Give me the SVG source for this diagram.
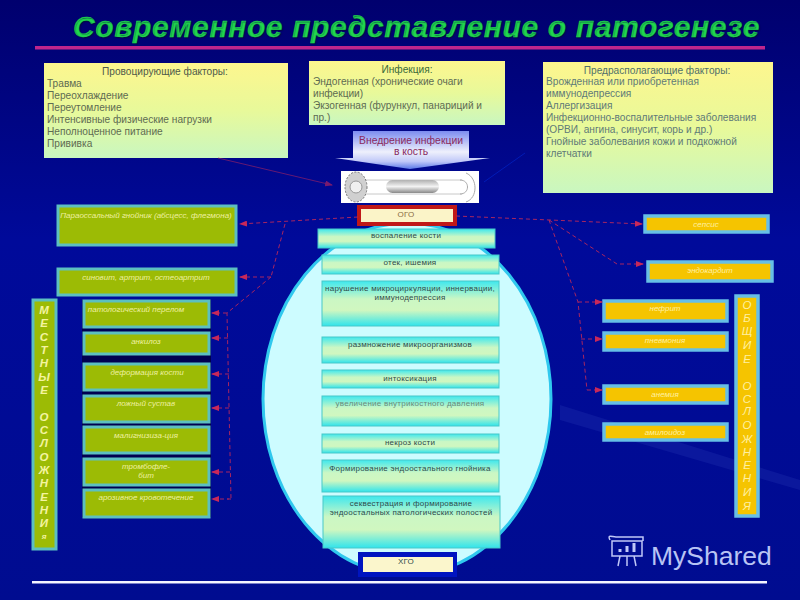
<svg xmlns="http://www.w3.org/2000/svg" width="800" height="600" viewBox="0 0 800 600">
<style>
text{font-family:"Liberation Sans",Arial,sans-serif}
.fac{font-size:10.15px;fill:#5e6b52}
.fach{font-size:10.15px;fill:#4f5a4a;text-anchor:middle}
.g{fill:#9cbb05;stroke:#5cc0c0;stroke-width:3}
.o{fill:#f5c400;stroke:#66bfe6;stroke-width:3.5}
.gt{font-size:8px;font-style:italic;fill:#eef0a0;text-anchor:middle}
.ot{font-size:8px;fill:#fff0a0;text-anchor:middle;font-style:italic}
.ct{font-size:8px;fill:#2f4a4a;text-anchor:middle;letter-spacing:.25px}
.c{fill:url(#cy);stroke:#48c8c8;stroke-width:1}
.vt{font-size:11.5px;font-style:italic;font-weight:bold;fill:#f4f4a0;text-anchor:middle}
.vo{font-size:11.5px;font-style:italic;fill:#fff0a0;text-anchor:middle}
.d{fill:none;stroke:#a82560;stroke-width:1;stroke-dasharray:4 3;marker-end:url(#a)}
.l{fill:none;stroke:#a82560;stroke-width:1;stroke-dasharray:4 3}
</style>
<defs>
<linearGradient id="bg" x1="0" y1="0" x2="0" y2="1"><stop offset="0" stop-color="#00006e"/><stop offset=".4" stop-color="#000a9a"/><stop offset="1" stop-color="#000c90"/></linearGradient>
<linearGradient id="y" x1="0" y1="0" x2="0" y2="1"><stop offset="0" stop-color="#fdf68e"/><stop offset=".5" stop-color="#e8f99a"/><stop offset="1" stop-color="#c9f7c0"/></linearGradient>
<linearGradient id="cy" x1="0" y1="0" x2="0" y2="1"><stop offset="0" stop-color="#3fe8ee"/><stop offset=".4" stop-color="#cbf7c4"/><stop offset=".65" stop-color="#d0f7c0"/><stop offset="1" stop-color="#30e4ec"/></linearGradient>
<linearGradient id="cb" x1="0" y1="0" x2="0" y2="1"><stop offset="0" stop-color="#7c8cf0"/><stop offset=".55" stop-color="#eef0fc"/><stop offset=".8" stop-color="#c0c8f8"/><stop offset="1" stop-color="#5a78e8"/></linearGradient>
<linearGradient id="tu" x1="0" y1="0" x2="0" y2="1"><stop offset="0" stop-color="#b0b0b0"/><stop offset=".5" stop-color="#f2f2f2"/><stop offset="1" stop-color="#888888"/></linearGradient>
<marker id="a" markerWidth="8" markerHeight="6" refX="7" refY="3" orient="auto"><path d="M0 0L8 3L0 6Z" fill="#c8285a"/></marker>
</defs>
<rect width="800" height="600" fill="url(#bg)"/>
<path d="M560 405L800 480V490L560 420Z" fill="#2030b0" opacity=".35"/>
<text id="title" x="416.5" y="37" font-size="30" font-weight="bold" font-style="italic" fill="#20d84e" stroke="#20d84e" stroke-width=".3" text-anchor="middle" letter-spacing=".63" style="text-shadow:1px 1px 1px #001040">Современное представление о патогенезе</text>
<rect x="35" y="46" width="730" height="3.5" fill="#c0258c"/>
<rect x="32" y="581" width="735" height="2.5" fill="#f4f4ff"/>

<g id="n-provoc"><rect x="44" y="63" width="244" height="95" fill="url(#y)"/>
<text class="fach" x="165" y="75">Провоцирующие  факторы:</text>
<text class="fac"><tspan x="47" y="87">Травма</tspan><tspan x="47" y="99">Переохлаждение</tspan><tspan x="47" y="111">Переутомление</tspan><tspan x="47" y="123">Интенсивные физические нагрузки</tspan><tspan x="47" y="135">Неполноценное питание</tspan><tspan x="47" y="147">Прививка</tspan></text></g>
<g id="n-inf"><rect x="309" y="61" width="196" height="64" fill="url(#y)"/>
<text class="fach" x="407" y="73" style="fill:#3a6a3a">Инфекция:</text>
<text class="fac"><tspan x="313" y="85">Эндогенная (хронические очаги</tspan><tspan x="313" y="97">инфекции)</tspan><tspan x="313" y="109">Экзогенная (фурункул, панариций и</tspan><tspan x="313" y="121">пр.)</tspan></text></g>
<g id="n-pred"><rect x="543" y="62" width="230" height="131" fill="url(#y)"/>
<text class="fach" x="657" y="74" style="fill:#50706a">Предрасполагающие факторы:</text>
<text class="fac" style="fill:#607a78"><tspan x="546" y="85">Врожденная или приобретенная</tspan><tspan x="546" y="97">иммунодепрессия</tspan><tspan x="546" y="109">Аллергизация</tspan><tspan x="546" y="121">Инфекционно-воспалительные заболевания</tspan><tspan x="546" y="133">(ОРВИ,  ангина, синусит, корь и др.)</tspan><tspan x="546" y="145">Гнойные заболевания кожи и подкожной</tspan><tspan x="546" y="157">клетчатки</tspan></text></g>

<g id="n-vned"><path d="M353 131H469V158L490 158L410 169L335 158H353Z" fill="url(#cb)"/>
<text font-size="10.4" fill="#8a2a60" text-anchor="middle"><tspan x="411" y="144">Внедрение инфекции</tspan><tspan x="411" y="155">в кость</tspan></text></g>

<g id="n-bone"><rect x="341" y="171" width="138" height="32" fill="#fff"/>
<path d="M360 180H462M360 194H462" stroke="#c8c8c8" fill="none"/>
<ellipse cx="356" cy="187" rx="11" ry="15" fill="#d0d0d0" stroke="#777" stroke-dasharray="2 1.5"/><circle cx="356" cy="187" r="6" fill="#f0f0f0" stroke="#999"/>
<rect x="386" y="180" width="53" height="13" rx="6.5" fill="url(#tu)"/>
<path d="M460 180C470 180 470 194 460 194M466 173C478 178 478 198 466 202" fill="none" stroke="#aaa"/></g>

<g id="n-ellipse"><ellipse cx="407" cy="399" rx="144" ry="176" fill="#cdfcff" stroke="#30c8ee" stroke-width="3"/></g>

<g id="n-ogo"><rect x="357" y="205" width="100" height="21" fill="#c01818"/><rect x="361" y="209" width="92" height="13" fill="#fbf4c8"/><text class="ct" x="406" y="217" style="fill:#8a6a40">ОГО</text></g>
<g id="n-xgo"><rect x="358" y="552" width="99" height="25" fill="#0014c0"/><rect x="363" y="557" width="90" height="15" fill="#fbf6cc"/><text class="ct" x="406" y="564">ХГО</text></g>

<g id="n-c1"><rect class="c" x="318" y="229" width="177" height="19"/><text class="ct" x="406" y="238">воспаление  кости</text></g>
<g id="n-c2"><rect class="c" x="322" y="255" width="177" height="19"/><text class="ct" x="410" y="265">отек,  ишемия</text></g>
<g id="n-c3"><rect class="c" x="322" y="281" width="177" height="45"/><text class="ct"><tspan x="410" y="291">нарушение  микроциркуляции,   иннервации,</tspan><tspan x="410" y="300">иммунодепрессия</tspan></text></g>
<g id="n-c4"><rect class="c" x="322" y="337" width="177" height="26"/><text class="ct" x="410" y="347">размножение  микроорганизмов</text></g>
<g id="n-c5"><rect class="c" x="322" y="370" width="177" height="18"/><text class="ct" x="410" y="381">интоксикация</text></g>
<g id="n-c6"><rect class="c" x="322" y="396" width="177" height="30"/><text class="ct" x="410" y="406" style="fill:#6a8a7a">увеличение внутрикостного  давления</text></g>
<g id="n-c7"><rect class="c" x="322" y="434" width="177" height="19"/><text class="ct" x="410" y="445">некроз  кости</text></g>
<g id="n-c8"><rect class="c" x="322" y="460" width="177" height="32"/><text class="ct" x="410" y="471">Формирование  эндоостального  гнойника</text></g>
<g id="n-c9"><rect class="c" x="323" y="496" width="177" height="52"/><text class="ct"><tspan x="411" y="506">секвестрация  и формирование</tspan><tspan x="411" y="515">эндоостальных  патологических  полостей</tspan></text></g>

<rect x="82" y="300" width="129" height="217" fill="#000050"/>
<g id="n-l1"><rect class="g" x="58" y="206" width="178" height="39"/><text class="gt" x="146" y="218">Параоссальный гнойник (абсцесс, флегмона)</text></g>
<g id="n-l2"><rect class="g" x="58" y="269" width="178" height="26"/><text class="gt" x="146" y="280">синовит,  артрит,  остеоартрит</text></g>
<g id="n-l3"><rect class="g" x="84" y="301" width="125" height="26"/><text class="gt" x="136" y="312">патологический  перелом</text></g>
<g id="n-l4"><rect class="g" x="84" y="333" width="125" height="21"/><text class="gt" x="146" y="344">анкилоз</text></g>
<g id="n-l5"><rect class="g" x="84" y="364" width="125" height="26"/><text class="gt" x="147" y="375">деформация  кости</text></g>
<g id="n-l6"><rect class="g" x="84" y="396" width="125" height="26"/><text class="gt" x="146" y="406">ложный  сустав</text></g>
<g id="n-l7"><rect class="g" x="84" y="427" width="125" height="26"/><text class="gt" x="146" y="438">малигнизиза-ция</text></g>
<g id="n-l8"><rect class="g" x="84" y="459" width="125" height="26"/><text class="gt"><tspan x="146" y="469">тромбофле-</tspan><tspan x="146" y="478">бит</tspan></text></g>
<g id="n-l9"><rect class="g" x="84" y="490" width="125" height="27"/><text class="gt" x="146" y="500">арозивное  кровотечение</text></g>

<g id="n-local"><rect class="g" x="33" y="300" width="23" height="249"/>
<text class="vt"><tspan x="44" y="314">М</tspan><tspan x="44" y="327">Е</tspan><tspan x="44" y="341">С</tspan><tspan x="44" y="354">Т</tspan><tspan x="44" y="367">Н</tspan><tspan x="44" y="381">Ы</tspan><tspan x="44" y="394">Е</tspan><tspan x="44" y="421">О</tspan><tspan x="44" y="434">С</tspan><tspan x="44" y="447">Л</tspan><tspan x="44" y="461">О</tspan><tspan x="44" y="474">Ж</tspan><tspan x="44" y="487">Н</tspan><tspan x="44" y="501">Е</tspan><tspan x="44" y="514">Н</tspan><tspan x="44" y="527">И</tspan><tspan x="44" y="539" font-size="8">я</tspan></text></g>

<g id="n-r1"><rect class="o" x="645" y="216" width="123" height="16"/><text class="ot" x="706" y="227">сепсис</text></g>
<g id="n-r2"><rect class="o" x="648" y="262" width="124" height="19"/><text class="ot" x="710" y="273">эндокардит</text></g>
<g id="n-r3"><rect class="o" x="604" y="301" width="123" height="20"/><text class="ot" x="665" y="311">нефрит</text></g>
<g id="n-r4"><rect class="o" x="604" y="333" width="123" height="17"/><text class="ot" x="665" y="343">пневмония</text></g>
<g id="n-r5"><rect class="o" x="604" y="386" width="123" height="17"/><text class="ot" x="665" y="397">анемия</text></g>
<g id="n-r6"><rect class="o" x="604" y="424" width="123" height="16"/><text class="ot" x="665" y="435">амилоидоз</text></g>
<g id="n-gen"><rect class="o" x="736" y="296" width="22" height="220"/>
<text class="vo"><tspan x="747" y="309">О</tspan><tspan x="747" y="322">Б</tspan><tspan x="747" y="335">Щ</tspan><tspan x="747" y="349">И</tspan><tspan x="747" y="363">Е</tspan><tspan x="747" y="390">О</tspan><tspan x="747" y="403">С</tspan><tspan x="747" y="415">Л</tspan><tspan x="747" y="429">О</tspan><tspan x="747" y="443">Ж</tspan><tspan x="747" y="456">Н</tspan><tspan x="747" y="469">Е</tspan><tspan x="747" y="482">Н</tspan><tspan x="747" y="496">И</tspan><tspan x="747" y="510">Я</tspan></text></g>

<g id="connectors">
<path class="d" d="M218 158L332 185" style="stroke-dasharray:none;opacity:.6"/>
<path d="M525 153L484 182" fill="none" stroke="#0030e0" stroke-width="1" style="opacity:.5"/>
<path class="d" d="M358 217L240 224"/>
<path class="l" d="M285 224L271 277"/>
<path class="d" d="M271 277H240"/>
<path class="l" d="M271 277L227 313L231 499H227"/>
<path class="d" d="M227 313H212"/>
<path class="d" d="M228 338H212"/>
<path class="d" d="M229 374H212"/>
<path class="d" d="M229 408H212"/>
<path class="d" d="M230 472H212"/>
<path class="d" d="M231 499H212"/>
<path class="d" d="M456 216L550 220L642 224"/>
<path class="d" d="M549 220L617 264H643"/>
<path class="l" d="M549 220L578 302L587 390"/>
<path class="d" d="M578 302H602"/>
<path class="d" d="M581 339H602"/>
<path class="d" d="M587 390H602"/>
</g>

<g id="watermark" fill="none" stroke="#c0c8f8" stroke-width="1.5"><path d="M612 541H642V556H612ZM610 540C607 534 612 537 616 537H643V541M620 556L618 566M627 556V566M634 556L636 566"/><path d="M620 552V549M627 552V546M634 552V543" stroke-width="3"/></g>
<text x="651" y="565" font-family="Open Sans,Noto Sans,sans-serif" font-size="26.5" fill="#b8c4f4">MyShared</text>
</svg>
